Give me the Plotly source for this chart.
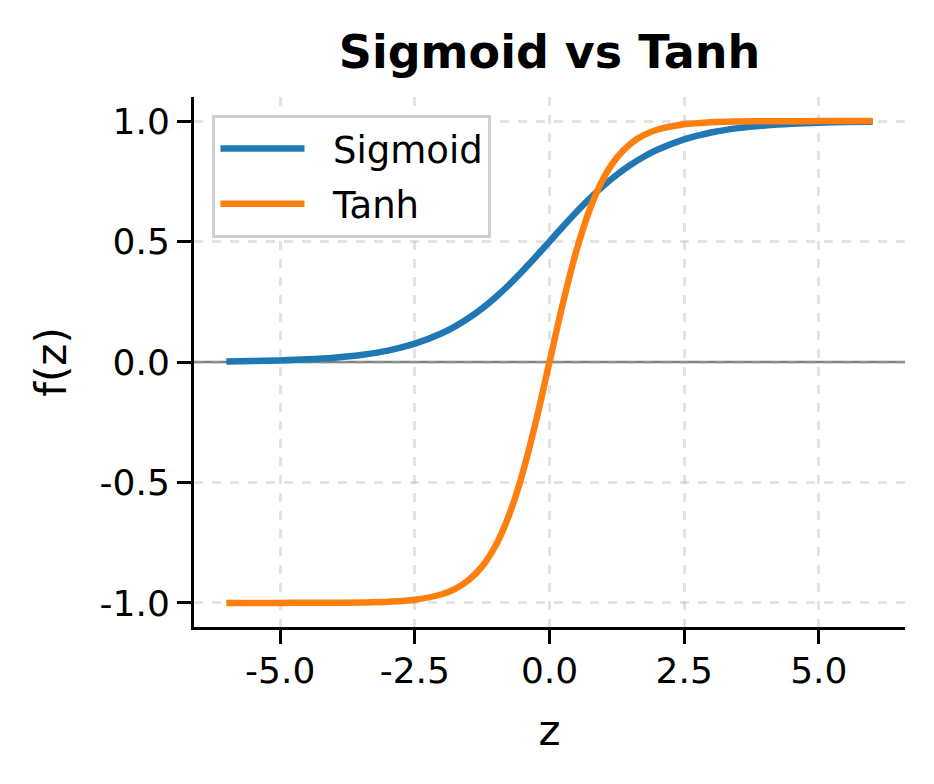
import plotly.graph_objects as go

# z sample points
z = [-6.0, -5.5, -5.0, -4.5, -4.0, -3.5, -3.0, -2.5, -2.0,
     -1.75, -1.5, -1.25, -1.0, -0.75, -0.5, -0.25, 0.0, 0.25, 0.5, 0.75,
     1.0, 1.25, 1.5, 1.75,
     2.0, 2.5, 3.0, 3.5, 4.0, 4.5, 5.0, 5.5, 6.0]

sigmoid = [0.0025, 0.0041, 0.0067, 0.0110, 0.0180, 0.0293, 0.0474, 0.0759, 0.1192,
           0.1480, 0.1824, 0.2227, 0.2689, 0.3208, 0.3775, 0.4378, 0.5000, 0.5622,
           0.6225, 0.6792, 0.7311, 0.7773, 0.8176, 0.8520,
           0.8808, 0.9241, 0.9526, 0.9707, 0.9820, 0.9890, 0.9933, 0.9959, 0.9975]

tanh = [-1.0000, -1.0000, -0.9999, -0.9997, -0.9993, -0.9982, -0.9951, -0.9866, -0.9640,
        -0.9414, -0.9051, -0.8483, -0.7616, -0.6351, -0.4621, -0.2449, 0.0000, 0.2449,
        0.4621, 0.6351, 0.7616, 0.8483, 0.9051, 0.9414,
        0.9640, 0.9866, 0.9951, 0.9982, 0.9993, 0.9997, 0.9999, 1.0000, 1.0000]

x_tickvals = [-5.0, -2.5, 0.0, 2.5, 5.0]
x_ticktext = ["-5.0", "-2.5", "0.0", "2.5", "5.0"]
y_tickvals = [-1.0, -0.5, 0.0, 0.5, 1.0]
y_ticktext = ["-1.0", "-0.5", "0.0", "0.5", "1.0"]

FONT = "DejaVu Sans"
PAD = "\u00a0\u00a0"  # spacing between legend line sample and its label

fig = go.Figure()
fig.add_trace(go.Scatter(x=z, y=sigmoid, mode="lines", name=PAD + "Sigmoid", legendgroup="s",
                         line=dict(color="#1f77b4", width=6.5, shape="spline")))
fig.add_trace(go.Scatter(x=z, y=tanh, mode="lines", name=PAD + "Tanh", legendgroup="t",
                         line=dict(color="#ff7f0e", width=6.5, shape="spline")))

# horizontal reference line at y = 0
fig.add_shape(type="line", xref="paper", yref="y", x0=0, x1=1, y0=0, y1=0,
              line=dict(color="#808080", width=2.5), layer="below")

fig.update_layout(
    width=934, height=784,
    margin=dict(l=194, r=29, t=97, b=157),
    paper_bgcolor="white", plot_bgcolor="white",
    font=dict(family=FONT, size=36, color="black"),
    title=dict(text="<b>Sigmoid vs Tanh</b>", font=dict(family=FONT, size=46, color="black"),
               x=0.5, xref="paper", xanchor="center",
               y=1 - 52 / 784, yref="container", yanchor="middle"),
    showlegend=True,
    legend=dict(x=0.026, y=0.966, xanchor="left", yanchor="top",
                bgcolor="white", bordercolor="#d0d0d0", borderwidth=3,
                font=dict(family=FONT, size=37, color="black"),
                itemwidth=84, tracegroupgap=4),
    xaxis=dict(range=[-6.6, 6.6], tickmode="array", tickvals=x_tickvals, ticktext=x_ticktext,
               showline=True, linecolor="black", linewidth=3, mirror=False,
               ticks="outside", ticklen=14, tickwidth=3, tickcolor="black",
               ticklabelstandoff=-4,
               showgrid=True, gridcolor="rgba(176,176,176,0.35)", gridwidth=2.5, griddash="dash",
               zeroline=False,
               tickfont=dict(family=FONT, size=36, color="black"),
               title=dict(text="z", font=dict(family=FONT, size=42, color="black"), standoff=26)),
    yaxis=dict(range=[-1.1, 1.1], tickmode="array", tickvals=y_tickvals, ticktext=y_ticktext,
               showline=True, linecolor="black", linewidth=3, mirror=False,
               ticks="outside", ticklen=14, tickwidth=3, tickcolor="black",
               showgrid=True, gridcolor="rgba(176,176,176,0.35)", gridwidth=2.5, griddash="dash",
               zeroline=False,
               tickfont=dict(family=FONT, size=36, color="black"),
               title=dict(text="f(z)", font=dict(family=FONT, size=42, color="black"), standoff=20)),
)

fig.write_html("out.html")
